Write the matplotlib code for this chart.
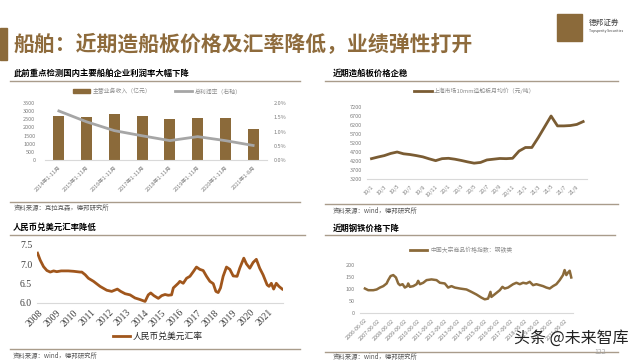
import matplotlib
matplotlib.use('Agg')
import matplotlib.pyplot as plt
from matplotlib.lines import Line2D
from matplotlib.patches import Rectangle

plt.rcParams['font.family'] = ['Noto Sans CJK SC', 'DejaVu Sans']

# ---- data ----
# top-left: shipbuilding revenue (bars) and profit margin (line, right axis)
ship_periods = ['2014年1-11月', '2015年1-11月', '2016年1-11月', '2017年1-11月',
                '2018年1-11月', '2019年1-11月', '2020年1-11月', '2021年1-8月']
ship_revenue = [2700, 2640, 2850, 2700, 2520, 2580, 2580, 1920]
ship_margin = [1.72, 1.34, 1.03, 0.85, 0.68, 0.82, 0.68, 0.51]

# top-right: Shanghai 10mm ship plate monthly price
plate_months = ['19/1', '19/2', '19/3', '19/4', '19/5', '19/6', '19/7', '19/8', '19/9',
                '19/10', '19/11', '19/12', '20/1', '20/2', '20/3', '20/4', '20/5', '20/6',
                '20/7', '20/8', '20/9', '20/10', '20/11', '20/12', '21/1', '21/2', '21/3',
                '21/4', '21/5', '21/6', '21/7', '21/8', '21/9', '21/10']
plate_price = [4330, 4420, 4500, 4620, 4700, 4600, 4560, 4500, 4430, 4320, 4220, 4330,
               4350, 4300, 4230, 4150, 4080, 4120, 4260, 4300, 4340, 4330, 4350, 4750,
               4950, 4950, 5500, 6100, 6700, 6150, 6150, 6170, 6230, 6390]

# bottom-left: RMB / USD
fx_years = [2007.96, 2008.11, 2008.30, 2008.49, 2008.68, 2008.87, 2009.05, 2009.3, 2009.7,
            2010.0, 2010.37, 2010.47, 2010.66, 2010.84, 2011.13, 2011.50, 2011.88, 2012.16,
            2012.48, 2012.67, 2012.92, 2013.20, 2013.48, 2013.76, 2014.05, 2014.23, 2014.37,
            2014.55, 2014.80, 2014.99, 2015.18, 2015.36, 2015.55, 2015.65, 2015.93, 2016.02,
            2016.21, 2016.40, 2016.59, 2016.78, 2016.96, 2017.15, 2017.34, 2017.53, 2017.72,
            2017.91, 2018.06, 2018.19, 2018.32, 2018.47, 2018.66, 2018.85, 2019.04, 2019.26,
            2019.41, 2019.64, 2019.79, 2019.98, 2020.17, 2020.35, 2020.54, 2020.73, 2020.96,
            2021.07, 2021.20, 2021.33, 2021.48, 2021.63, 2021.82]
fx_rate = [7.29, 7.11, 6.94, 6.84, 6.80, 6.83, 6.81, 6.83, 6.83,
           6.82, 6.80, 6.80, 6.73, 6.64, 6.56, 6.43, 6.33, 6.30,
           6.36, 6.30, 6.24, 6.21, 6.13, 6.09, 6.04, 6.21, 6.26,
           6.19, 6.12, 6.19, 6.22, 6.20, 6.21, 6.39, 6.51, 6.56,
           6.51, 6.64, 6.69, 6.81, 6.93, 6.87, 6.84, 6.69, 6.56,
           6.50, 6.30, 6.27, 6.39, 6.69, 6.93, 6.87, 6.70, 6.69,
           6.90, 7.16, 7.01, 6.90, 7.05, 7.13, 6.90, 6.73, 6.47,
           6.43, 6.51, 6.36, 6.51, 6.43, 6.36]
fx_ticks = list(range(2008, 2022))

# bottom-right: China commodity price index, steel
steel_years = [2006.42, 2006.67, 2007.05, 2007.30, 2007.55, 2007.80, 2008.05, 2008.17, 2008.35,
               2008.55, 2008.75, 2008.92, 2009.05, 2009.25, 2009.42, 2009.60, 2009.67, 2009.80,
               2010.05, 2010.30, 2010.42, 2010.55, 2010.80, 2011.05, 2011.42, 2011.80, 2012.05,
               2012.42, 2012.67, 2012.92, 2013.17, 2013.55, 2014.05, 2014.42, 2014.80, 2015.17,
               2015.42, 2015.67, 2015.85, 2015.92, 2016.17, 2016.55, 2016.75, 2016.92, 2017.17,
               2017.55, 2017.80, 2018.05, 2018.30, 2018.55, 2018.80, 2019.05, 2019.30, 2019.55,
               2019.80, 2020.05, 2020.30, 2020.55, 2020.80, 2021.05, 2021.30, 2021.42, 2021.55,
               2021.67, 2021.80, 2021.92]
steel_index = [102, 95, 95, 98, 106, 112, 123, 137, 154,
               158, 148, 123, 116, 120, 106, 112, 123, 109,
               112, 120, 134, 120, 126, 137, 140, 137, 126,
               123, 106, 112, 106, 102, 98, 88, 77, 64,
               57, 60, 88, 67, 78, 95, 109, 102, 106,
               120, 126, 120, 126, 123, 130, 116, 120, 116,
               112, 106, 102, 112, 120, 137, 158, 179, 158,
               168, 176, 148]
steel_tick_years = list(range(2006, 2022))

BROWN = '#8B6A3A'
W, H = 640, 360

fig = plt.figure(figsize=(6.4, 3.6), dpi=100)


def box(x0, y0, x1, y1):
    return fig.add_axes([x0 / W, 1 - y1 / H, (x1 - x0) / W, (y1 - y0) / H])


def txt(x, y, s, **kw):
    kw.setdefault('va', 'center')
    fig.text(x / W, 1 - y / H, s, **kw)


def hline(x0, x1, y, color='#A99C8B', lw=1.0):
    fig.add_artist(Line2D([x0 / W, x1 / W], [1 - y / H] * 2, color=color, lw=lw))


def clean(ax, color='#7F7F7F', size=4):
    for s in ['top', 'right', 'left']:
        ax.spines[s].set_visible(False)
    ax.spines['bottom'].set_color('#D9D9D9')
    ax.tick_params(length=0, labelsize=size, colors=color)


# ---- page header ----
fig.add_artist(Rectangle((0, 1 - 60 / H), 7 / W, 32 / H, color=BROWN, transform=fig.transFigure))
txt(14, 45, '船舶：近期造船板价格及汇率降低，业绩弹性打开', fontsize=15, fontweight='bold', color='#8E6B3C')
fig.add_artist(Rectangle((557 / W, 1 - 41 / H), 25 / W, 27 / H, color=BROWN, transform=fig.transFigure))
txt(589, 23, '德邦证券', fontsize=5.5, color='#404040')
txt(589, 31, 'Topsperity Securities', fontsize=2.5, color='#404040')

# ---- top-left ----
txt(14, 73, '此前重点检测国内主要船舶企业利润率大幅下降', fontsize=6, fontweight='bold')
hline(10, 300, 81)
fig.add_artist(Rectangle((73 / W, 1 - 93 / H), 17 / W, 4 / H, color=BROWN, transform=fig.transFigure))
txt(93, 91, '主营业务收入（亿元）', fontsize=4.2, color='#8C8C8C')
hline(175, 192, 91, color='#A6A6A6', lw=2)
txt(195, 91, '总利润率（右轴）', fontsize=4.2, color='#8C8C8C')

ax1 = box(45, 103, 267, 160)
x = range(len(ship_periods))
ax1.bar(x, ship_revenue, width=0.4, color=BROWN)
ax1.set_xlim(-0.5, len(ship_periods) - 0.5)
ax1.set_ylim(0, 3500)
ax1.set_yticks(range(0, 3501, 500))
ax1.set_xticks(list(x))
ax1.set_xticklabels(ship_periods, rotation=45, ha='right', rotation_mode='anchor')
clean(ax1)
ax1.tick_params(axis='y', pad=7)
ax1r = ax1.twinx()
ax1r.plot(list(x), ship_margin, color='#A6A6A6', lw=2)
ax1r.set_ylim(0, 2.0)
ax1r.set_yticks([0, 0.5, 1.0, 1.5, 2.0])
ax1r.set_yticklabels(['0.0%', '0.5%', '1.0%', '1.5%', '2.0%'])
clean(ax1r)
ax1r.spines['bottom'].set_visible(False)
ax1r.tick_params(axis='y', pad=5)

hline(10, 300, 202)
txt(14, 208, '资料来源：克拉克森，德邦研究所', fontsize=4.6, color='#595959')

# ---- top-right ----
txt(333, 73, '近期造船板价格企稳', fontsize=6, fontweight='bold')
hline(325, 618, 81)
hline(414, 432, 91, color='#7A5C33', lw=2)
txt(434, 91, '上海市场10mm造船板月均价（元/吨）', fontsize=4.2, color='#8C8C8C')

ax2 = box(367, 107, 587, 179)
ax2.plot(range(len(plate_months)), plate_price, color='#7A5C33', lw=2)
ax2.set_ylim(3200, 7200)
ax2.set_yticks(range(3200, 7201, 500))
ax2.set_xlim(-0.7, len(plate_months) - 0.4)
ax2.set_xticks(range(0, len(plate_months), 2))
ax2.set_xticklabels(plate_months[::2], rotation=45, ha='right', rotation_mode='anchor')
clean(ax2)

hline(325, 618, 204)
txt(333, 211, '资料来源：wind，德邦研究所', fontsize=4.6, color='#595959')

# ---- bottom-left ----
txt(13, 227, '人民币兑美元汇率降低', fontsize=6, fontweight='bold')
hline(10, 305, 235)
ax3 = box(37, 245, 283, 303)
ax3.plot(fx_years, fx_rate, color='#A0561C', lw=2)
ax3.set_ylim(6.0, 7.5)
ax3.set_yticks([6.0, 6.5, 7.0, 7.5])
ax3.set_yticklabels(['6.0', '6.5', '7.0', '7.5'], family='Liberation Serif')
ax3.set_xlim(2007.93, 2021.86)
ax3.set_xticks(fx_ticks)
ax3.set_xticklabels([str(y) for y in fx_ticks], rotation=45, ha='right',
                    rotation_mode='anchor', family='Liberation Serif')
clean(ax3, color='#404040', size=7)
hline(113, 130, 336, color='#A0561C', lw=2)
txt(133, 336, '人民币兑美元汇率', fontsize=6.3, color='#262626')

hline(10, 300, 349)
txt(13, 356, '资料来源：wind，德邦研究所', fontsize=4.6, color='#595959')

# ---- bottom-right ----
txt(333, 228, '近期钢铁价格下降', fontsize=6, fontweight='bold')
hline(325, 615, 235)
hline(410, 427, 250, color=BROWN, lw=2)
txt(430, 250, '中国大宗商品价格指数：钢铁类', fontsize=4.2, color='#8C8C8C')

ax4 = box(360, 265, 573, 313)
ax4.plot(steel_years, steel_index, color=BROWN, lw=1.8)
ax4.set_ylim(0, 200)
ax4.set_yticks(range(0, 201, 50))
ax4.set_xlim(2006.05, 2022.05)
ax4.set_xticks([y + 0.42 for y in steel_tick_years])
ax4.set_xticklabels(['%d-06-02' % y for y in steel_tick_years], rotation=45, ha='right',
                    rotation_mode='anchor')
clean(ax4)

hline(325, 618, 352)
txt(333, 357, '资料来源：wind，德邦研究所', fontsize=4.6, color='#595959')
txt(600, 352, '122', fontsize=5, color='#A6A6A6', ha='center')
txt(514, 338, '头条 @未来智库', fontsize=11.5, color='#222222')

fig.savefig('out.png', dpi=100, facecolor='white')
